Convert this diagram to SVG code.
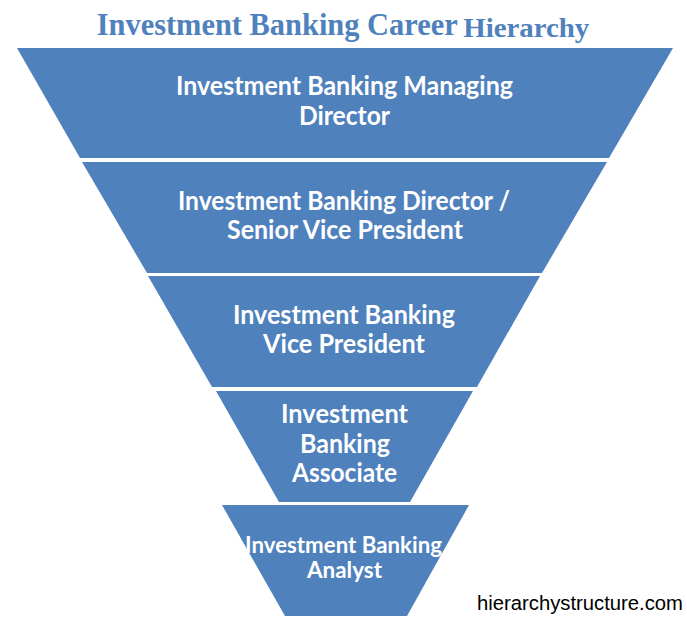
<svg xmlns="http://www.w3.org/2000/svg" width="687" height="620" viewBox="0 0 687 620">
  <style>
    .lvl { fill: #4f81bd; }
    .lbl { font-family: Lato, "Open Sans", "Liberation Sans", sans-serif; font-weight: bold; fill: #ffffff; font-size: 26px; }
    .sm { font-size: 22px; }
    .title { font-family: "Liberation Serif", "Times New Roman", serif; font-weight: bold; fill: #4f81bd; }
    .wm { font-family: "Liberation Sans", Arial, sans-serif; font-size: 20px; fill: #000000; }
  </style>
  <rect width="687" height="620" fill="#ffffff"/>
  <g id="title">
    <text class="title" x="96.7" y="35" font-size="31.5" textLength="361" lengthAdjust="spacingAndGlyphs">Investment Banking Career</text>
    <text class="title" x="463.3" y="36.5" font-size="28" textLength="126" lengthAdjust="spacingAndGlyphs">Hierarchy</text>
  </g>
  <g id="managing-director">
    <polygon class="lvl" points="17,48 673,48 609,158 80,158"/>
    <text class="lbl" x="176" y="95" textLength="337" lengthAdjust="spacingAndGlyphs">Investment Banking Managing</text>
    <text class="lbl" x="299" y="125" textLength="91" lengthAdjust="spacingAndGlyphs">Director</text>
  </g>
  <g id="director-svp">
    <polygon class="lvl" points="82,162 607,162 542,273 147,273"/>
    <text class="lbl" x="178" y="209.5" textLength="332" lengthAdjust="spacingAndGlyphs">Investment Banking Director /</text>
    <text class="lbl" x="227" y="239.3" textLength="236" lengthAdjust="spacingAndGlyphs">Senior Vice President</text>
  </g>
  <g id="vice-president">
    <polygon class="lvl" points="148,276 540,276 477,387 212,387"/>
    <text class="lbl" x="233" y="324" textLength="222" lengthAdjust="spacingAndGlyphs">Investment Banking</text>
    <text class="lbl" x="263" y="353" textLength="162" lengthAdjust="spacingAndGlyphs">Vice President</text>
  </g>
  <g id="associate">
    <polygon class="lvl" points="216,391 473,391 410,502 279,502"/>
    <text class="lbl" x="281" y="423" textLength="127" lengthAdjust="spacingAndGlyphs">Investment</text>
    <text class="lbl" x="300" y="452.7" textLength="90" lengthAdjust="spacingAndGlyphs">Banking</text>
    <text class="lbl" x="292" y="481.7" textLength="105" lengthAdjust="spacingAndGlyphs">Associate</text>
  </g>
  <g id="analyst">
    <polygon class="lvl" points="222,505 469,505 407,616 285,616"/>
    <text class="lbl sm" x="245" y="553" textLength="197" lengthAdjust="spacingAndGlyphs">Investment Banking</text>
    <text class="lbl sm" x="307" y="578" textLength="75" lengthAdjust="spacingAndGlyphs">Analyst</text>
  </g>
  <g id="connectors"></g>
  <text class="wm" x="477" y="610" textLength="206" lengthAdjust="spacingAndGlyphs">hierarchystructure.com</text>
</svg>
